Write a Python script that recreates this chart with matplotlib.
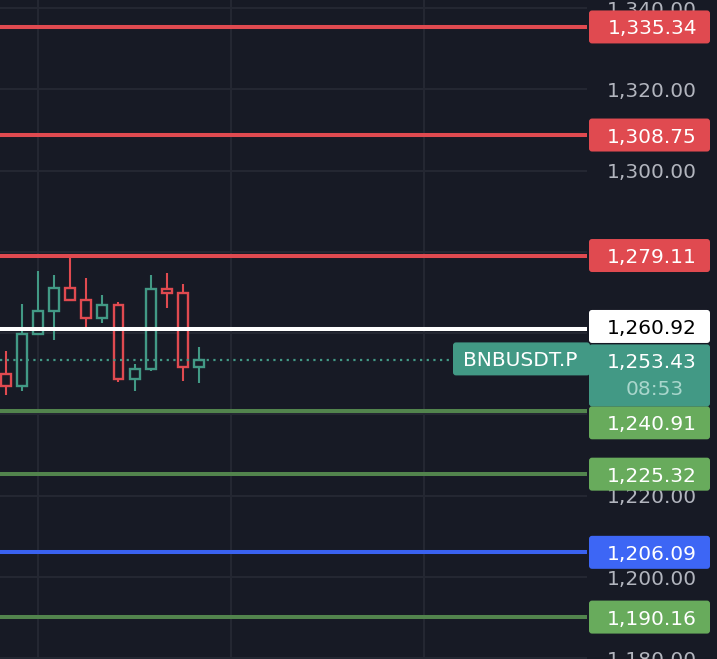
import matplotlib.pyplot as plt
from matplotlib.patches import Rectangle, FancyBboxPatch

# candles (oldest -> newest)
opens = [1250.0, 1246.9, 1259.9, 1265.5, 1271.1, 1268.2, 1263.8, 1267.0, 1248.8, 1251.3, 1270.9, 1269.9, 1251.8]
highs = [1255.5, 1267.1, 1275.4, 1274.2, 1278.8, 1273.7, 1269.5, 1267.7, 1252.5, 1274.2, 1274.7, 1272.2, 1256.5]
lows = [1244.7, 1245.8, 1259.6, 1258.3, 1268.0, 1261.5, 1262.5, 1248.0, 1245.9, 1250.7, 1266.2, 1248.2, 1247.7]
closes = [1246.9, 1259.9, 1265.5, 1271.1, 1268.2, 1263.8, 1267.0, 1248.8, 1251.3, 1270.9, 1269.9, 1251.8, 1253.43]

levels = [1335.34, 1308.75, 1279.11, 1260.92, 1240.91, 1225.32, 1206.09, 1190.16]
level_kinds = ['res', 'res', 'res', 'pivot', 'sup', 'sup', 'mid', 'sup']
price_ticks = [1340, 1320, 1300, 1280, 1260, 1240, 1220, 1200, 1180]
time_grid = [2, 14, 26]
last_price = 1253.43
symbol = 'BNBUSDT.P'
countdown = '08:53'

bg = '#171a25'
grid_c = '#242732'
up_c = '#429985'
dn_c = '#e04a50'
line_cols = {'res': '#e04a50', 'pivot': '#ffffff', 'sup': '#52844d', 'mid': '#3a62f0'}
box_cols = {'res': '#e04a50', 'pivot': '#ffffff', 'sup': '#68ab5c', 'mid': '#3d66f5'}
txt_cols = {'res': 'white', 'pivot': 'black', 'sup': 'white', 'mid': 'white'}
# label nudges in pixels (labels pushed apart by the price tag)
nudge = {1260.92: 3, 1240.91: -12}

W, H = 717, 659
split = 587
fig = plt.figure(figsize=(W / 100, H / 100), dpi=100, facecolor=bg)
ax = fig.add_axes([0, 0, split / W, 1])
ax.set_facecolor(bg)
ax.set_xlim(-0.36, 36.1)
ax.set_ylim(1179.85, 1341.97)
for s in ax.spines.values():
    s.set_visible(False)
ax.set_xticks([])
ax.set_yticks([])

for p in price_ticks:
    ax.axhline(p, color=grid_c, lw=1.5, zorder=0)
for t in time_grid:
    ax.axvline(t, color=grid_c, lw=1.5, zorder=0)

# candles, hollow bodies
for i in range(len(opens)):
    o, h, l, c = opens[i], highs[i], lows[i], closes[i]
    col = up_c if c >= o else dn_c
    ax.vlines(i, l, h, color=col, lw=1.5, zorder=2)
    ax.add_patch(Rectangle((i - 0.31, min(o, c)), 0.62, abs(c - o),
                           facecolor=bg, edgecolor=col, lw=1.7, zorder=3))

for lv, k in zip(levels, level_kinds):
    ax.axhline(lv, color=line_cols[k], lw=2.9, zorder=4)

# dotted last-price line up to the symbol tag
x_end = ax.transData.inverted().transform((453, 0))[0]
ax.hlines(last_price, -0.36, x_end, color=up_c, lw=1.6, linestyles=(0, (1, 2)), zorder=4)

fig.canvas.draw()


def ypix(price):
    return ax.transData.transform((0, price))[1]


def tag(a, x0, x1, yc, h, col, zo=5):
    a.add_patch(FancyBboxPatch((x0, yc - h / 2), x1 - x0, h,
                               boxstyle='round,pad=0,rounding_size=3',
                               facecolor=col, edgecolor='none', zorder=zo,
                               clip_on=False))


# price scale panel in pixel units
ax2 = fig.add_axes([split / W, 0, (W - split) / W, 1])
ax2.set_facecolor(bg)
ax2.set_xlim(0, W - split)
ax2.set_ylim(0, H)
ax2.axis('off')

fs = 14.5
tx = 110
tag_centres = [ypix(lv) + nudge.get(lv, 0) for lv in levels]
for p in price_ticks:
    yp = ypix(p)
    # scale labels that sit fully under a level tag are hidden
    if min(abs(yp - yc) for yc in tag_centres) < 12:
        continue
    ax2.text(tx, yp, f'{p:,.2f}', color='#b2b5be', fontsize=fs,
             ha='right', va='center_baseline', zorder=1)

for lv, k, yc in zip(levels, level_kinds, tag_centres):
    tag(ax2, 2, 123, yc, 33, box_cols[k])
    ax2.text(tx, yc, f'{lv:,.2f}', color=txt_cols[k], fontsize=fs,
             ha='right', va='center_baseline', zorder=6)

# last price tag
yl = ypix(last_price)
tag(ax2, 2, 123, yl - 15.5, 62, up_c, zo=7)
ax2.text(tx, yl - 1, f'{last_price:,.2f}', color='white', fontsize=fs,
         ha='right', va='center_baseline', zorder=8)
ax2.text(tx - 13, yl - 28, countdown, color='#a9d6cc', fontsize=fs,
         ha='right', va='center_baseline', zorder=8)

# symbol tag on the chart
ax3 = fig.add_axes([0, 0, split / W, 1])
ax3.set_xlim(0, split)
ax3.set_ylim(0, H)
ax3.axis('off')
tag(ax3, 453, 590, yl + 1, 33, up_c)
ax3.text(520, yl + 1, symbol, color='white', fontsize=fs,
         ha='center', va='center_baseline', zorder=6)

fig.savefig('out.png', dpi=100, facecolor=bg)
